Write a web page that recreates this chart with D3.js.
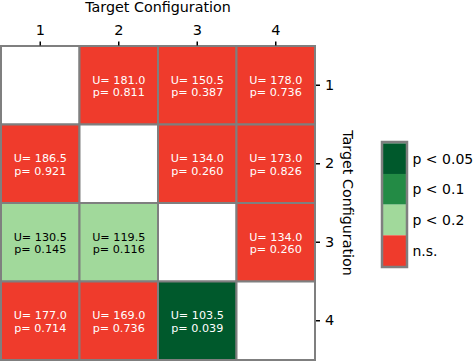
<!DOCTYPE html>
<html><head><meta charset="utf-8">
<script src="https://cdn.jsdelivr.net/npm/d3@7"></script>
<style>body{margin:0;background:#fff;} text{font-family:"DejaVu Sans",sans-serif;}</style>
</head><body>
<svg id="c" width="474" height="361"></svg>
<script>
const configs = ["1","2","3","4"];
const uValues = [
  [null, 181.0, 150.5, 178.0],
  [186.5, null, 134.0, 173.0],
  [130.5, 119.5, null, 134.0],
  [177.0, 169.0, 103.5, null]
];
const pValues = [
  [null, 0.811, 0.387, 0.736],
  [0.921, null, 0.260, 0.826],
  [0.145, 0.116, null, 0.260],
  [0.714, 0.736, 0.039, null]
];
const thresholds = [0.05, 0.1, 0.2];
const legendLabels = ["p < 0.05", "p < 0.1", "p < 0.2", "n.s."];
const colors = ["#00592c", "#238b45", "#a1d99b", "#ef3b2c"];
const axisTitle = "Target Configuration";

const svg = d3.select("#c");
const x = d3.scaleBand().domain(configs).range([1, 315]);
const y = d3.scaleBand().domain(configs).range([46, 360]);
const color = d3.scaleThreshold().domain(thresholds).range(colors);

const cells = [];
uValues.forEach((row, i) => row.forEach((u, j) => cells.push({r: configs[i], c: configs[j], u, p: pValues[i][j]})));

const g = svg.append("g");
g.selectAll("rect").data(cells).enter().append("rect")
  .attr("x", d => x(d.c)).attr("y", d => y(d.r))
  .attr("width", x.bandwidth()).attr("height", y.bandwidth())
  .attr("fill", d => d.u == null ? "#fff" : color(d.p))
  .attr("stroke", "#7f7f7f").attr("stroke-width", 2);

const txt = g.selectAll("g.t").data(cells.filter(d => d.u != null)).enter().append("g")
  .attr("transform", d => `translate(${x(d.c) + x.bandwidth()/2},${y(d.r) + y.bandwidth()/2})`);
txt.append("text").attr("text-anchor", "middle").attr("y", -1.5)
  .attr("font-size", 11.2).attr("fill", d => color(d.p) === colors[2] ? "#000" : "#fff")
  .text(d => "U= " + d.u.toFixed(1));
txt.append("text").attr("text-anchor", "middle").attr("y", 11)
  .attr("font-size", 11.2).attr("fill", d => color(d.p) === colors[2] ? "#000" : "#fff")
  .text(d => "p= " + d.p.toFixed(3));

// top axis
const topAxis = svg.append("g").attr("transform", "translate(0,45.5)")
  .call(d3.axisTop(x).tickSize(4).tickPadding(7));
topAxis.select(".domain").remove();
topAxis.selectAll("line").attr("stroke", "#000").attr("stroke-width", 1.5);
topAxis.selectAll("text").attr("font-size", 14.5).attr("fill", "#000").style("font-family", "DejaVu Sans");

// right axis
const rightAxis = svg.append("g").attr("transform", "translate(316,0)")
  .call(d3.axisRight(y).tickSize(4).tickPadding(5));
rightAxis.select(".domain").remove();
rightAxis.selectAll("line").attr("stroke", "#000").attr("stroke-width", 1.5);
rightAxis.selectAll("text").attr("font-size", 14.5).attr("fill", "#000").style("font-family", "DejaVu Sans");

svg.append("text").attr("x", 158).attr("y", 12).attr("text-anchor", "middle")
  .attr("font-size", 14.3).text(axisTitle);
svg.append("text").attr("transform", "translate(342.5,203) rotate(90)").attr("text-anchor", "middle")
  .attr("font-size", 14.3).text(axisTitle);

// legend
const ly = d3.scaleBand().domain(legendLabels).range([143.3, 266]);
const leg = svg.append("g");
leg.selectAll("rect").data(legendLabels).enter().append("rect")
  .attr("x", 383).attr("y", d => ly(d)).attr("width", 23).attr("height", ly.bandwidth())
  .attr("fill", (d, i) => colors[i]);
leg.append("rect").attr("x", 382).attr("y", 142).attr("width", 25).attr("height", 125)
  .attr("fill", "none").attr("stroke", "#7f7f7f").attr("stroke-width", 2.5);
leg.selectAll("text.l").data(legendLabels).enter().append("text").attr("class", "l")
  .attr("x", 412.5).attr("y", d => ly(d) + ly.bandwidth()/2 + 5)
  .attr("font-size", 14).text(d => d);
</script>
</body></html>
